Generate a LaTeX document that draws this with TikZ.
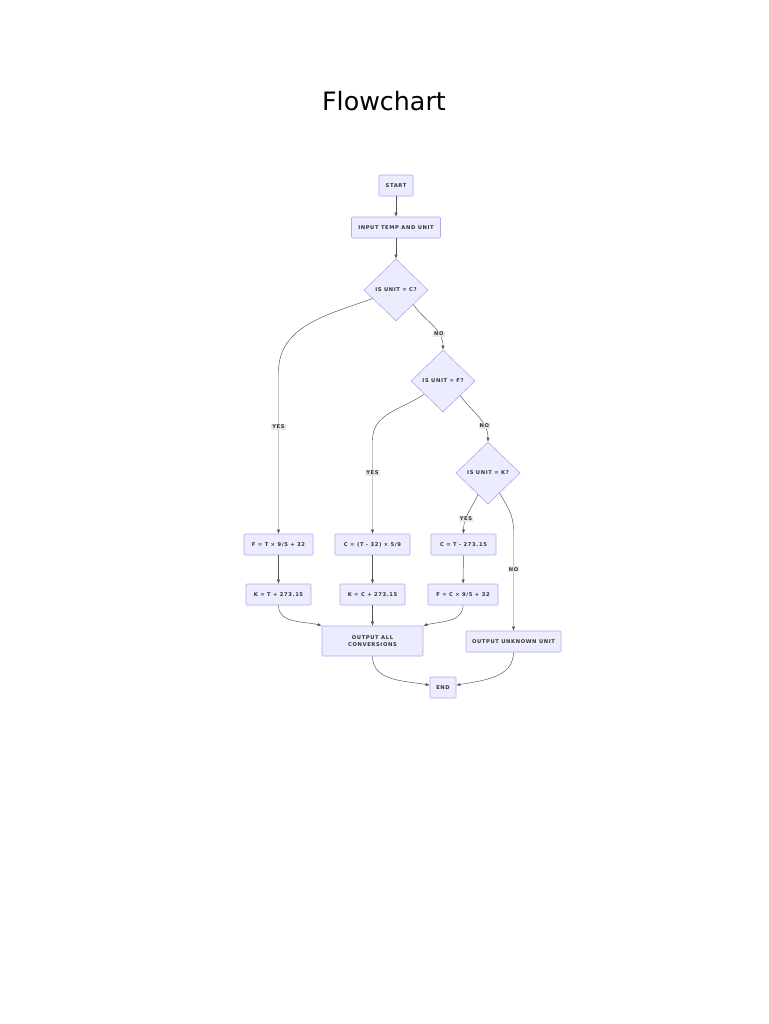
\documentclass[tikz,border=0pt]{standalone}
\usepackage{fontspec}
\setmainfont{DejaVu Sans}
\newfontfamily\flowfont[LetterSpace=12]{DejaVu Sans Bold}
\usepackage{tikz}
\usetikzlibrary{shapes.geometric}
\usetikzlibrary{arrows.meta}
\definecolor{nodefill}{HTML}{ECECFF}
\definecolor{nodeline}{HTML}{B4A8EC}
\definecolor{textgray}{HTML}{333333}
\definecolor{linegray}{HTML}{555555}
\definecolor{lblfill}{HTML}{E8E8E8}
\tikzstyle{box}=[draw=nodeline,fill=nodefill,line width=0.45pt,rounded corners=0.8pt,minimum height=15.75pt,inner sep=1pt,text=textgray,font=\flowfont\fontsize{3.9}{5.5}\selectfont]
\tikzstyle{decision}=[box,diamond,minimum width=48pt,minimum height=46.5pt,rounded corners=0pt]
\tikzstyle{arr}=[draw=linegray,line width=0.35pt,-{Latex[length=3pt,width=2.4pt]}]
\tikzstyle{lbl}=[fill=lblfill,inner sep=0.8pt,text=textgray,font=\flowfont\fontsize{3.9}{5}\selectfont]

\begin{document}
\begin{tikzpicture}[x=0.75pt,y=0.75pt]
      \fill[white] (0,0) rectangle (768,-1024);
      \useasboundingbox (0,0) rectangle (768,-1024);

      \node[font=\fontsize{19}{22}\selectfont] (title) at (384,-101) {Flowchart};

      \node[box,minimum width=25.5pt] (start) at (396,-185.5) {START};
      \node[box,minimum width=66.75pt] (input) at (396,-227.5) {INPUT TEMP AND UNIT};

      \node[decision] (isc) at (396,-290) {IS UNIT = C?};
      \node[decision] (isf) at (443,-381) {IS UNIT = F?};
      \node[decision] (isk) at (488,-473) {IS UNIT = K?};

      \node[box,minimum width=51.75pt] (c2f) at (278.5,-544.5) {F = T × 9/5 + 32};
      \node[box,minimum width=56.25pt] (f2c) at (372.5,-544.5) {C = (T - 32) × 5/9};
      \node[box,minimum width=48.75pt] (k2c) at (463.5,-544.5) {C = T - 273.15};

      \node[box,minimum width=48.75pt] (c2k) at (278.5,-594.5) {K = T + 273.15};
      \node[box,minimum width=48.75pt] (f2k) at (372.5,-594.5) {K = C + 273.15};
      \node[box,minimum width=52.5pt] (k2f) at (463,-594.5) {F = C × 9/5 + 32};

      \node[box,minimum width=75.75pt,minimum height=22.5pt,align=center] (outall) at (372.5,-641) {OUTPUT ALL\\CONVERSIONS};
      \node[box,minimum width=71.25pt] (outunk) at (513.5,-641.5) {OUTPUT UNKNOWN UNIT};
      \node[box,minimum width=19.5pt] (stop) at (443,-687.5) {END};

      \coordinate (benda) at (278.5,-372);
      \coordinate (bendb) at (372.5,-440);
      \coordinate (bendd) at (513.5,-530);

      \draw[arr] (start) -- (input);
      \draw[arr] (input) -- (isc);

      \draw[arr] (isc.200) to[out=200,in=90] (benda) -- node[lbl,pos=0.34]{YES} (c2f);
      \draw[arr] (isc.-40) to[out=-55,in=90] node[lbl,pos=0.7]{NO} (isf);

      \draw[arr] (isf.215) to[out=215,in=90] (bendb) -- node[lbl,pos=0.35]{YES} (f2c);
      \draw[arr] (isf.-40) to[out=-55,in=90] node[lbl,pos=0.7]{NO} (isk);

      \draw[arr] (isk.245) to[out=245,in=90] node[lbl,pos=0.65]{YES} (k2c);
      \draw[arr] (isk.-60) to[out=-60,in=90] (bendd) -- node[lbl,pos=0.39]{NO} (outunk);

      \foreach \u/\v in {c2f/c2k,f2c/f2k,k2c/k2f}{
        \draw[arr] (\u) -- (\v);
      }

      \draw[arr] (c2k) to[out=-90,in=165] (outall.north west);
      \draw[arr] (f2k) -- (outall);
      \draw[arr] (k2f) to[out=-90,in=15] (outall.north east);

      \draw[arr] (outall) to[out=-90,in=170] (stop);
      \draw[arr] (outunk) to[out=-90,in=10] (stop);
    \end{tikzpicture}
\end{document}
